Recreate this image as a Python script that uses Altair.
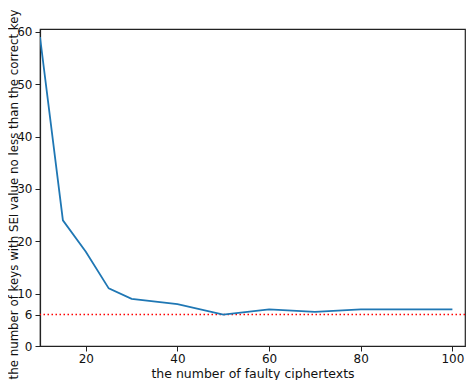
import altair as alt
import pandas as pd

# data
n_faulty = [10, 15, 20, 25, 30, 40, 50, 60, 70, 80, 90, 100]
n_keys = [59, 24, 18, 11, 9, 8, 6, 7, 6.5, 7, 7, 7]
threshold = [6]
x_ticks = [20, 40, 60, 80, 100]
y_ticks = [0, 6, 10, 20, 30, 40, 50, 60]

df = pd.DataFrame({"x": n_faulty, "y": n_keys})
df_thr = pd.DataFrame({"y": threshold})

W, H = 425, 317

x_scale = alt.Scale(domain=[10, 102.75], nice=False, zero=False)
y_scale = alt.Scale(domain=[0, 60.55], nice=False, zero=False)

line = alt.Chart(df).mark_line(color="#1f77b4", strokeWidth=1.8, clip=True).encode(
    x=alt.X("x:Q", scale=x_scale,
            axis=alt.Axis(values=x_ticks, title="the number of faulty ciphertexts",
                          grid=False, ticks=True, tickSize=5, labelPadding=2,
                          titleY=31, titleBaseline="alphabetic")),
    y=alt.Y("y:Q", scale=y_scale,
            axis=alt.Axis(values=y_ticks,
                          title="the number of keys with SEI value no less than the correct key",
                          titleFontSize=11.8,
                          grid=False, ticks=True, tickSize=5, labelPadding=3,
                          labelAlign="right", labelBaseline="middle",
                          titleX=-26.5, titleY=H / 2 + 6.5, titleAngle=-90,
                          titleAlign="center", titleBaseline="middle",
                          titleLimit=2000)),
)

rule = alt.Chart(df_thr).mark_rule(color="#ff0000", strokeWidth=1.5,
                                   strokeDash=[1.5, 2.5]).encode(
    y=alt.Y("y:Q", scale=y_scale)
)

chart = alt.layer(rule, line).properties(
    width=W, height=H,
    autosize=alt.AutoSizeParams(type="none"),
    padding={"left": 32, "top": 21, "right": 1, "bottom": 34},
).configure_view(
    stroke="#222222", strokeWidth=1.2
).configure_axis(
    labelFont="DejaVu Sans", titleFont="DejaVu Sans",
    labelFontSize=12, titleFontSize=12.5,
    labelColor="#111111", titleColor="#111111",
    titleFontWeight="normal",
    domainColor="#222222", tickColor="#222222",
    domainWidth=1.2, tickWidth=1,
)

chart.save("out.html", embed_options={"renderer": "svg", "actions": False})
